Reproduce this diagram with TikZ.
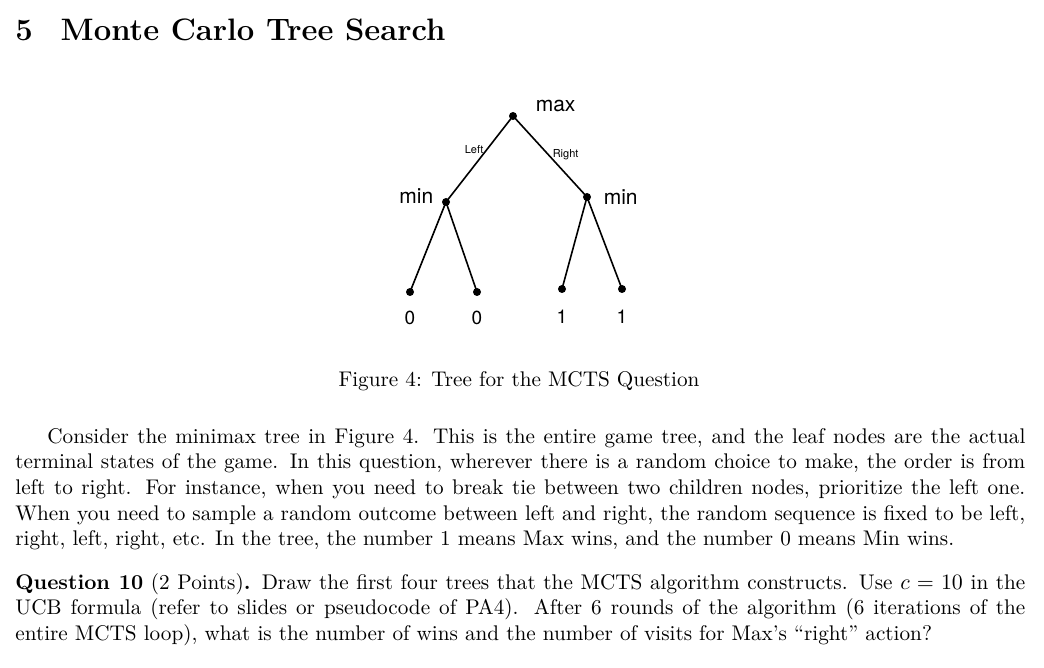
\documentclass[tikz,border=0pt]{standalone}
\usepackage{fontspec}
\newfontfamily\helv{TeX Gyre Heros}
\usetikzlibrary{positioning}
\tikzset{
  dot/.style={circle, fill, inner sep=0pt, minimum size=4pt},
  player/.style={font=\helv\fontsize{10.5}{12}\selectfont, inner sep=1pt},
  edgelab/.style={font=\helv\fontsize{5.5}{7}\selectfont, inner sep=1pt},
  leafval/.style={font=\helv\fontsize{9.5}{11}\selectfont, inner sep=1pt},
  para/.style={anchor=north west, text width=505pt, align=justify, inner sep=0pt, font=\fontsize{10.6}{12.8}\selectfont}
}
\begin{document}
\begin{tikzpicture}[x=0.5pt, y=-0.5pt]
	\useasboundingbox (0,0) rectangle (1044,668);
	\node [anchor=west, font=\fontsize{15.5}{18}\selectfont\bfseries, inner sep=0pt] (title) at (15,30) {5\hspace{0.9em}Monte Carlo Tree Search};
	
	% tree
	\node [dot] (root) at (513,116) {};
	\node [dot] (minL) at (446,202) {};
	\node [dot] (minR) at (587,197) {};
	\node [dot] (l1) at (410,292) {};
	\node [dot] (l2) at (477,292) {};
	\node [dot] (l3) at (562,289) {};
	\node [dot] (l4) at (622,289) {};
	\draw [thick] (root.center) -- (minL.center)
	node[pos=0.4, edgelab, above left=0pt, yshift=-3pt]{Left};
	\draw [thick] (root.center) -- (minR.center)
	node[pos=0.5, edgelab, above right=0pt, yshift=-3pt]{Right};
	\foreach \a/\b in {minL/l1, minL/l2, minR/l3, minR/l4}
		\draw [thick] (\a.center) -- (\b.center);
	
	\node [player, right = 8pt of root, yshift=5pt] (maxlab) {max};
	\node [player, left = 3pt of minL, yshift=3pt] (minLlab) {min};
	\node [player, right = 5pt of minR] (minRlab) {min};
	\node [leafval, below = 6pt of l1] (v1) {0};
	\node [leafval, below = 6pt of l2] (v2) {0};
	\node [leafval, below = 7pt of l3] (v3) {1};
	\node [leafval, below = 7pt of l4] (v4) {1};
	
	\node [font=\fontsize{10.6}{12.8}\selectfont, inner sep=0pt] (caption) at (519,381) {Figure 4: Tree for the MCTS Question};
	
	% text
	\node [para] (p1) at (15,428) {\hspace*{16pt}Consider the minimax tree in Figure 4. This is the entire game tree, and the leaf nodes are the actual\linebreak terminal states of the game. In this question, wherever there is a random choice to make, the order is from\linebreak left to right. For instance, when you need to break tie between two children nodes, prioritize the left one.\linebreak When you need to sample a random outcome between left and right, the random sequence is fixed to be left,\linebreak right, left, right, etc. In the tree, the number 1 means Max wins, and the number 0 means Min wins.};
	\node [para] (p2) at (15,573) {\textbf{Question 10} (2 Points)\textbf{.} Draw the first four trees that the MCTS algorithm constructs. Use $c=10$ in the\linebreak UCB formula (refer to slides or pseudocode of PA4). After 6 rounds of the algorithm (6 iterations of the\linebreak entire MCTS loop), what is the number of wins and the number of visits for Max's ``right'' action?};
\end{tikzpicture}
\end{document}
